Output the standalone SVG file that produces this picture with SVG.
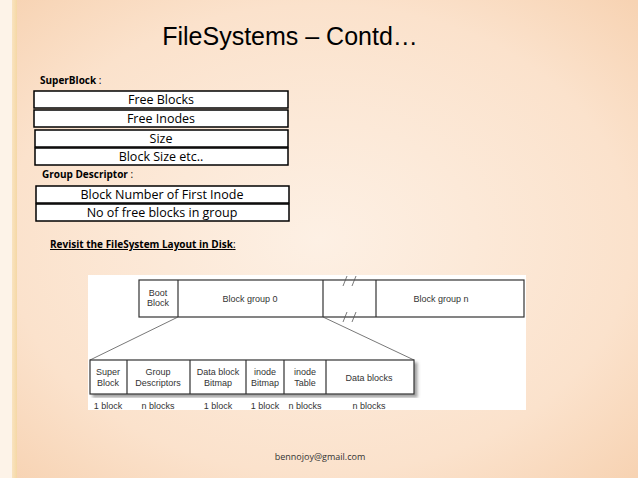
<svg xmlns="http://www.w3.org/2000/svg" width="638" height="478" viewBox="0 0 638 478">
<defs>
<radialGradient id="bg" cx="0.5" cy="0.5" r="0.7">
<stop offset="0" stop-color="#fdf0e4"/><stop offset="0.7" stop-color="#fbe2cc"/><stop offset="1" stop-color="#f7d3b3"/>
</radialGradient>
<linearGradient id="lbar" x1="0" x2="1"><stop offset="0" stop-color="#f9e3c0"/><stop offset="1" stop-color="#f5d8a5"/></linearGradient>
<filter id="sh"><feDropShadow dx="3" dy="3" stdDeviation="1.5" flood-color="#666" flood-opacity="0.6"/></filter>
</defs>
<style>
.b{fill:#fff;stroke:#000;stroke-width:1.5}
.t{font-family:"Open Sans","DejaVu Sans",sans-serif;font-size:12.5px;text-anchor:middle}
.l{font-family:"Open Sans","DejaVu Sans",sans-serif;font-size:10px;font-weight:bold}
.d{fill:#fff;stroke:#333;stroke-width:1.2}
.dt{font-family:"Liberation Sans Narrow","Liberation Sans",sans-serif;font-size:9px;text-anchor:middle;fill:#333}
.dl{stroke:#555;stroke-width:0.8;fill:none}
</style>
<rect width="638" height="478" fill="url(#bg)"/>
<rect x="0" y="0" width="12" height="478" fill="#fdf3e8"/>
<rect x="12" y="0" width="5" height="478" fill="url(#lbar)"/>
<text x="290" y="45" font-family="'Liberation Sans',Arial,sans-serif" font-size="25" text-anchor="middle">FileSystems – Contd…</text>
<text x="40" y="84" class="l">SuperBlock <tspan font-weight="normal">:</tspan></text>
<g id="sb-free-blocks"><rect class="b" x="34" y="91" width="254" height="17"/><text class="t" x="161" y="104">Free Blocks</text></g>
<g id="sb-free-inodes"><rect class="b" x="34" y="110" width="254" height="17"/><text class="t" x="161" y="123">Free Inodes</text></g>
<g id="sb-size"><rect class="b" x="35" y="130" width="253" height="17"/><text class="t" x="161" y="143">Size</text></g>
<g id="sb-block-size"><rect class="b" x="35" y="148" width="253" height="17"/><text class="t" x="161" y="161">Block Size etc..</text></g>
<text x="42" y="178" class="l">Group Descriptor <tspan font-weight="normal">:</tspan></text>
<g id="gd-first-inode"><rect class="b" x="36" y="186" width="253" height="17"/><text class="t" x="162" y="199">Block Number of First Inode</text></g>
<g id="gd-free-blocks"><rect class="b" x="36" y="204" width="253" height="17"/><text class="t" x="162" y="217">No of free blocks in group</text></g>
<text x="50" y="248" class="l" text-decoration="underline">Revisit the FileSystem Layout in Disk<tspan font-weight="normal">:</tspan></text>
<rect x="88" y="275" width="438" height="135" fill="#fff"/>
<g id="top-bar">
<rect class="d" x="139" y="280" width="385" height="37"/>
<line class="d" x1="178" y1="280" x2="178" y2="317"/>
<line class="d" x1="323" y1="280" x2="323" y2="317"/>
<line class="d" x1="376" y1="280" x2="376" y2="317"/>
<text class="dt" x="158" y="296">Boot</text><text class="dt" x="158" y="306">Block</text>
<text class="dt" x="250" y="302">Block group 0</text>
<text class="dt" x="441" y="302">Block group n</text>
<path class="dl" stroke-width="1.2" d="M343 286 L347 276 M352 286 L356 276 M343 322 L347 312 M352 322 L356 312"/>
</g>
<g id="connectors"><path class="dl" d="M178 317 L90 360 M323 317 L414 360"/></g>
<g id="bottom-row">
<rect class="d" x="90" y="360" width="324" height="34" filter="url(#sh)"/>
<path class="d" d="M127 360V394M190 360V394M246 360V394M284 360V394M326 360V394"/>
<text class="dt" x="108" y="375">Super</text><text class="dt" x="108" y="386">Block</text>
<text class="dt" x="158" y="375">Group</text><text class="dt" x="158" y="386">Descriptors</text>
<text class="dt" x="218" y="375">Data block</text><text class="dt" x="218" y="386">Bitmap</text>
<text class="dt" x="265" y="375">inode</text><text class="dt" x="265" y="386">Bitmap</text>
<text class="dt" x="305" y="375">inode</text><text class="dt" x="305" y="386">Table</text>
<text class="dt" x="369" y="381">Data blocks</text>
<text class="dt" x="108" y="409">1 block</text><text class="dt" x="158" y="409">n blocks</text>
<text class="dt" x="218" y="409">1 block</text><text class="dt" x="265" y="409">1 block</text>
<text class="dt" x="305" y="409">n blocks</text><text class="dt" x="369" y="409">n blocks</text>
</g>
<text x="320" y="460" font-family="'Open Sans',sans-serif" font-size="9" text-anchor="middle" fill="#333">bennojoy@gmail.com</text>
</svg>
